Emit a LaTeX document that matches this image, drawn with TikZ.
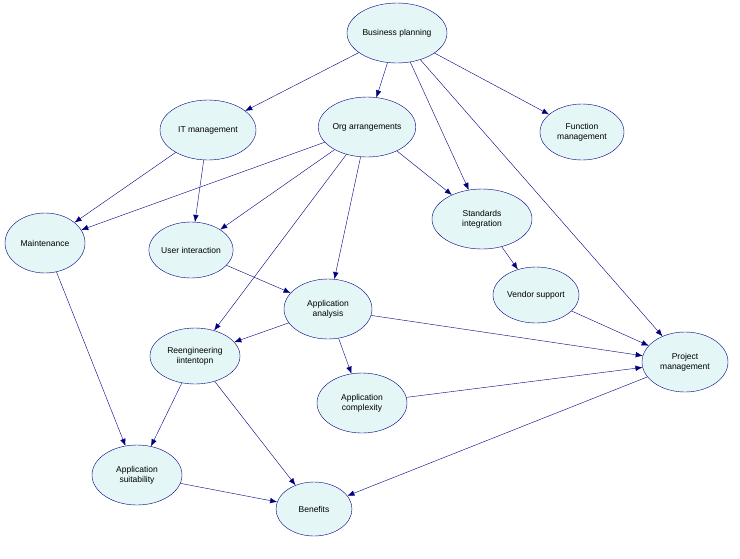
\documentclass[tikz,border=0pt]{standalone}
\usepackage{fontspec}
\setmainfont{Liberation Sans}
\usetikzlibrary{shapes.geometric,arrows.meta}
\definecolor{nfill}{HTML}{E4F6F6}
\definecolor{navy}{HTML}{000080}
\begin{document}
\begin{tikzpicture}[x=1pt,y=-1pt,
  n/.style={ellipse,draw=navy,fill=nfill,inner sep=0pt,font=\fontsize{8.5}{10}\selectfont,align=center},
  e/.style={draw=navy,-{Latex[length=7pt,width=5.5pt]},shorten >=0pt}]
\useasboundingbox (0,0) rectangle (740,558);
\node[n,minimum width=100,minimum height=60] (bp) at (397,33) {Business planning};
\node[n,minimum width=96,minimum height=60] (it) at (208,130) {IT management};
\node[n,minimum width=96,minimum height=60] (org) at (367,127) {Org arrangements};
\node[n,minimum width=84,minimum height=56] (fm) at (582,132) {Function\\management};
\node[n,minimum width=80,minimum height=60] (mt) at (45,243) {Maintenance};
\node[n,minimum width=84,minimum height=56] (ui) at (191,250) {User interaction};
\node[n,minimum width=100,minimum height=60] (si) at (482,219) {Standards\\integration};
\node[n,minimum width=86,minimum height=56] (vs) at (536,295) {Vendor support};
\node[n,minimum width=88,minimum height=60] (aa) at (328,309) {Application\\analysis};
\node[n,minimum width=90,minimum height=56] (re) at (195,356) {Reengineering\\iintentopn};
\node[n,minimum width=86,minimum height=60] (pm) at (685,362) {Project\\management};
\node[n,minimum width=90,minimum height=60] (ac) at (362,403) {Application\\complexity};
\node[n,minimum width=90,minimum height=60] (as) at (137,475) {Application\\suitability};
\node[n,minimum width=76,minimum height=54] (bn) at (314,509) {Benefits};
\foreach \a/\b in {bp/it,bp/org,bp/fm,bp/si,bp/pm,it/mt,it/ui,org/mt,org/ui,org/aa,org/re,org/si,ui/aa,si/vs,vs/pm,aa/re,aa/ac,aa/pm,ac/pm,mt/as,re/as,re/bn,as/bn,pm/bn}
  \draw[e] (\a) -- (\b);
\end{tikzpicture}
\end{document}
